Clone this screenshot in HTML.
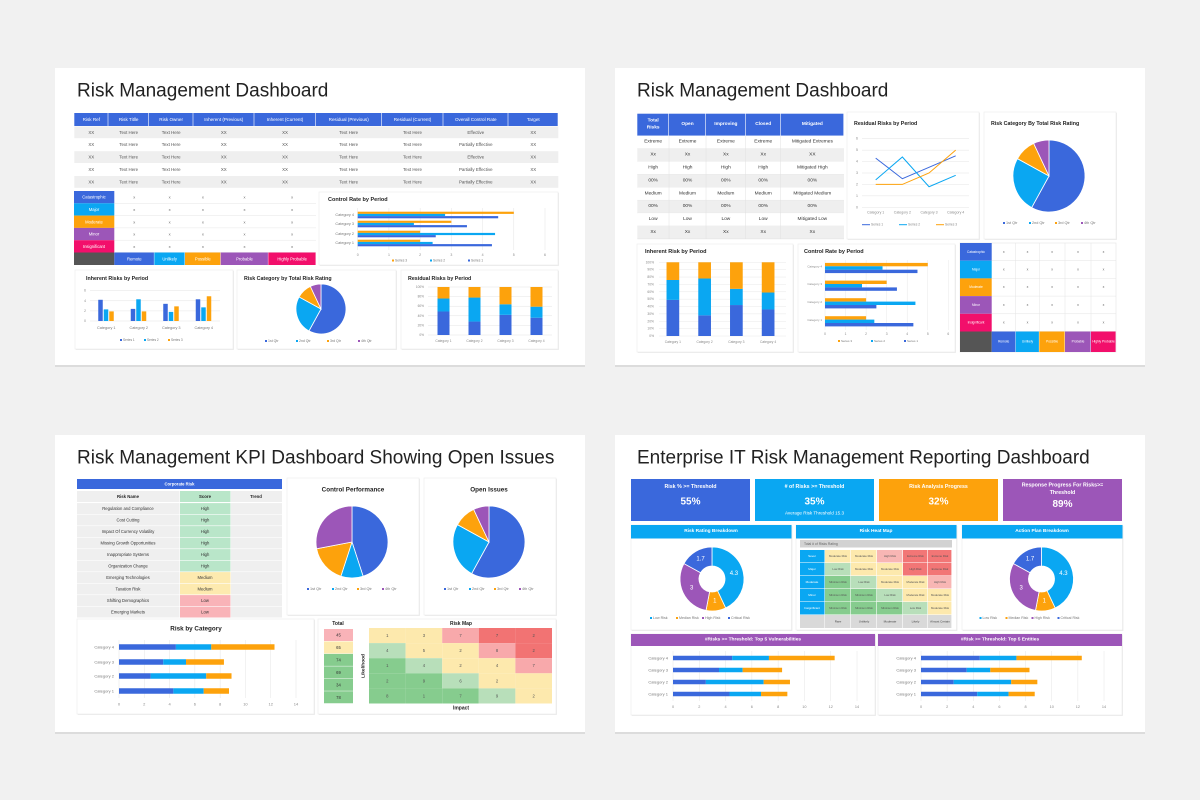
<!DOCTYPE html>
<html><head><meta charset="utf-8"><title>Risk Management Dashboards</title>
<style>html,body{margin:0;padding:0;background:#f1f1f1;}svg{display:block;font-family:"Liberation Sans",sans-serif;}</style>
</head><body>
<svg id="svg" width="1200" height="800" viewBox="0 0 1200 800" xmlns="http://www.w3.org/2000/svg"></svg>
<script>
// ---------- DATA ----------
const cats = ['Category 1','Category 2','Category 3','Category 4'];
const crS1 = [4.3,2.5,3.5,4.5];
const crS2 = [2.4,4.4,1.8,2.8];
const crS3 = [2,2,3,5];
const inhS1 = [4.2,2.4,3.4,4.3];
const inhS2 = [2.3,4.3,1.8,2.7];
const inhS3 = [1.9,1.9,2.9,4.9];
const resBlue = [49,28,42,36];
const resLight = [27,50,22,23];
const resOrange = [24,22,36,41];
const pieQtr = [58,25,10,7];
const ctrlPerf = [45,10,17,28];
const qtrLabels = ['1st Qtr','2nd Qtr','3rd Qtr','4th Qtr'];
const lineS1 = [4.3,2.5,3.5,4.5];
const lineS2 = [2.4,4.4,1.8,2.8];
const lineS3 = [2,2,3,5];
const donutVals = [4.3,1,3,1.7];
const donutLabels = ['4.3','1','3','1.7'];
const riskTotals = [45,65,74,69,34,78];
const pctTicks = ['0%','10%','20%','30%','40%','50%','60%','70%','80%','90%','100%'];

const BLUE='#3a68dc', LB='#0aa7f2', OR='#fda20c', PU='#9c56b8', PK='#f20f6b', GR='#555555';
const NS='http://www.w3.org/2000/svg';
const S=document.getElementById('svg');

function mk(tag, attrs, name){
  const el=document.createElementNS(NS,tag);
  for(const k in attrs) el.setAttribute(k,attrs[k]);
  
  
  S.appendChild(el); return el;
}
function R(x,y,w,h,fill,name,stroke){ return mk('rect',{x:x,y:y,width:Math.max(0,w),height:Math.max(0,h),fill:fill,stroke:stroke||'none','stroke-width':0.6},name); }
function T(x,y,s,size,fill,anchor,weight,name){
  const el=mk('text',{x:x,y:y,'font-size':size,fill:fill||'#333','text-anchor':anchor||'start','font-weight':weight||'normal','dominant-baseline':'central'},name||'label');
  el.textContent=s; return el;
}
function L(x1,y1,x2,y2,c,w,name){ return mk('line',{x1:x1,y1:y1,x2:x2,y2:y2,stroke:c,'stroke-width':w||0.5},name||'gridline'); }
function card(x,y,w,h,name){ R(x+0.8,y+0.8,w,h,'#e4e4e4',name+'-shadow'); return R(x,y,w,h,'#fff',name,'#ececec'); }
function slide(x,y,name){ R(x,y+1,530,298,'#dcdcdc',name+'-shadow'); R(x,y,530,297,'#fff',name); }

function pie(cx,cy,r,vals,colors,inner,name){
  const tot=vals.reduce((a,b)=>a+b,0); let a=-Math.PI/2;
  vals.forEach((v,i)=>{
    const b=a+v/tot*2*Math.PI, lg=(b-a)>Math.PI?1:0;
    const x1=cx+r*Math.cos(a),y1=cy+r*Math.sin(a),x2=cx+r*Math.cos(b),y2=cy+r*Math.sin(b);
    let d;
    if(inner){const ix1=cx+inner*Math.cos(a),iy1=cy+inner*Math.sin(a),ix2=cx+inner*Math.cos(b),iy2=cy+inner*Math.sin(b);
      d=`M${x1},${y1}A${r},${r} 0 ${lg} 1 ${x2},${y2}L${ix2},${iy2}A${inner},${inner} 0 ${lg} 0 ${ix1},${iy1}Z`;}
    else d=`M${cx},${cy}L${x1},${y1}A${r},${r} 0 ${lg} 1 ${x2},${y2}Z`;
    mk('path',{d:d,fill:colors[i],stroke:'#fff','stroke-width':0.8},name+'-slice-'+(i+1));
    a=b;
  });
}
function legend(x,y,labels,colors,gap,size,name){
  labels.forEach((l,i)=>{ R(x+i*gap,y-1,2,2,colors[i],name+'-swatch'); T(x+i*gap+3,y,l,size||3.5,'#777','start','normal',name+'-entry'); });
}
// grouped horizontal bars (control rate)
function groupedH(x0,x1,max,ys,bh,name){
  const sx=v=>x0+v/max*(x1-x0);
  cats.forEach((c,i)=>{
    R(x0,ys[i]-bh*1.5,sx(crS3[i])-x0,bh,OR,name+'-bar-s3');
    R(x0,ys[i]-bh*0.5,sx(crS2[i])-x0,bh,LB,name+'-bar-s2');
    R(x0,ys[i]+bh*0.5,sx(crS1[i])-x0,bh,BLUE,name+'-bar-s1');
  });
}
// stacked horizontal bars
function stackH(x0,x1,max,ys,bh,name){
  const sx=v=>(x1-x0)*v/max;
  cats.forEach((c,i)=>{
    let x=x0;
    [[crS1,BLUE],[crS2,LB],[crS3,OR]].forEach(([arr,col],k)=>{ const w=sx(arr[i]); R(x,ys[i]-bh/2,w,bh,col,name+'-segment'); x+=w; });
  });
}
function pctStack(x0,x1,yTop,yBot,bw,name){
  const n=cats.length, step=(x1-x0)/n;
  cats.forEach((c,i)=>{
    const cx=x0+step*(i+0.5); let y=yBot;
    [[resBlue,BLUE],[resLight,LB],[resOrange,OR]].forEach(([arr,col])=>{
      const tot=resBlue[i]+resLight[i]+resOrange[i]; const h=arr[i]/tot*(yBot-yTop);
      R(cx-bw/2,y-h,bw,h,col,name+'-segment'); y-=h;
    });
    T(cx,yBot+6,c,3.3,'#888','middle','normal',name+'-category-label');
  });
}

// ---------- SLIDE 1 ----------
slide(55,68,'slide-1');
T(77,91,'Risk Management Dashboard',19,'#222','start','normal','slide-1-title');
(function(){
  const xs=[74.3,108.3,149,193.3,254.3,315.7,381.7,443.3,508.3,558.3];
  const hdr=['Risk Ref','Risk Titlle','Risk Owner','Inherent (Previous)','Inherent (Current)','Residual (Previous)','Residual (Current)','Overall Control Rate','Target'];
  const eff=['Effective','Partially Effective','Effective','Partially Effective','Partially Effective'];
  hdr.forEach((h,i)=>{ R(xs[i],113,xs[i+1]-xs[i]-0.6,13,BLUE,'table-header-cell'); T((xs[i]+xs[i+1])/2,119.5,h,4.6,'#fff','middle','normal','table-header-text'); });
  for(let r=0;r<5;r++){
    const y=126+r*12.4;
    R(74.3,y+0.4,484,11.8,r%2==0?'#efefef':'#fff','table-row');
    const vals=['XX','Text Here','Text Here','XX','XX','Text Here','Text Here',eff[r],'XX'];
    vals.forEach((v,i)=>T((xs[i]+xs[i+1])/2,y+6.3,v,4.4,'#555','middle','normal','table-cell'));
  }
  // risk matrix
  const rl=['Catastrophic','Major','Moderate','Minor','Insignificant'], rc=[BLUE,LB,OR,PU,PK];
  const cx=[114.3,154.3,185,220.7,268.3,316];
  rl.forEach((l,i)=>{ const y=191+i*12.3;
    R(74,y,40.3,12.3,rc[i],'matrix-row-label'); T(94,y+6.2,l,4.2,'#fff','middle','normal','matrix-row-text');
    for(let c=0;c<5;c++){ T((cx[c]+cx[c+1])/2,y+6.2,'x',4,'#666','middle','normal','matrix-cell'); }
    L(114,y+12.3,316,y+12.3,'#e6e6e6',0.5);
  });
  R(74,252.5,40.3,12.5,GR,'matrix-corner');
  const cl=['Remote','Unlikely','Possible','Probable','Highly Probable'];
  cl.forEach((l,i)=>{ R(cx[i],252.5,cx[i+1]-cx[i]-0.4,12.5,rc[i==4?4:i],'matrix-col-label'); T((cx[i]+cx[i+1])/2,258.8,l,4.2,'#fff','middle','normal','matrix-col-text'); });
  // control rate
  card(319,192,239,73,'control-rate-card');
  T(328,200,'Control Rate by Period',5.5,'#222','start','bold','control-rate-title');
  const x0=357.7,x1=545; for(let t=0;t<=6;t++){ const x=x0+t/6*(x1-x0); L(x,208,x,250,'#e4e4e4'); T(x,255,String(t),3.5,'#888','middle','normal','x-tick'); }
  const ys=[243,234,224,215];
  cats.forEach((c,i)=>T(354,ys[i],c,3.8,'#777','end','normal','category-label'));
  groupedH(x0,x1,6,ys,2.2,'control-rate-1');
  legend(392,260.5,['Series 3','Series 2','Series 1'],[OR,LB,BLUE],38,3.3,'control-legend');
  // inherent
  card(75,270,158,79,'inherent-card');
  T(86,279,'Inherent Risks by Period',5.3,'#222','start','bold','inherent-title');
  const py0=321, py1=290.7; [0,2,4,6].forEach(t=>{ const y=py0-t/6*(py0-py1); L(90,y,220,y,'#e4e4e4'); T(86,y,String(t),3.3,'#888','end','normal','y-tick'); });
  const step=130/4;
  cats.forEach((c,i)=>{ const cx0=90+step*(i+0.5);
    [[inhS1,BLUE],[inhS2,LB],[inhS3,OR]].forEach(([a,col],k)=>{ const h=a[i]/6*(py0-py1); R(cx0-8+k*5.5,py0-h,4.5,h,col,'inherent-bar'); });
    T(cx0,328,c,3.8,'#777','middle','normal','category-label'); });
  legend(120,340,['Series 1','Series 2','Series 3'],[BLUE,LB,OR],24,3.2,'inherent-legend');
  // pie
  card(237,270,159,79,'risk-category-card');
  T(244,279,'Risk Category by Total Risk Rating',5.3,'#222','start','bold','risk-category-title');
  pie(321,309,25,pieQtr,[BLUE,LB,OR,PU],0,'risk-category-pie');
  legend(265,341,qtrLabels,[BLUE,LB,OR,PU],31,3.5,'pie-legend');
  // residual
  card(401,270,157,79,'residual-card');
  T(408,279,'Residual Risks by Period',5.3,'#222','start','bold','residual-title');
  ['0%','20%','40%','60%','80%','100%'].forEach((t,i)=>{ const y=335-i*9.6; L(428,y,552,y,'#e4e4e4'); T(424,y,t,3.2,'#888','end','normal','y-tick'); });
  pctStack(428,552,287,335,12,'residual-1');
})();

// ---------- SLIDE 2 ----------
slide(615,68,'slide-2');
T(637,91,'Risk Management Dashboard',19,'#222','start','normal','slide-2-title');
(function(){
  const xs=[637.3,669,706,745.7,780.7,844];
  const hdr=['Total Risks','Open','Improving','Closed','Mitigated'];
  hdr.forEach((h,i)=>{ R(xs[i],113.7,xs[i+1]-xs[i]-0.6,22,BLUE,'summary-header-cell');
    if(i==0){T((xs[0]+xs[1])/2,121,'Total',4.8,'#fff','middle','bold','summary-header-text');T((xs[0]+xs[1])/2,128,'Risks',4.8,'#fff','middle','bold','summary-header-text');}
    else T((xs[i]+xs[i+1])/2,124.7,h,4.8,'#fff','middle','bold','summary-header-text'); });
  const rows=[['Extreme','Mitigated Extremes'],['Xx','XX'],['High','Mitigated High'],['00%','00%'],['Medium','Mitigated Medium'],['00%','00%'],['Low','Mitigated Low'],['Xx','Xx']];
  rows.forEach((r,ri)=>{ const y=135.7+ri*12.9;
    R(637.3,y,206.7,12.9,ri%2?'#efefef':'#fff','summary-row');
    L(637.3,y+12.9,844,y+12.9,'#e0e0e0');
    for(let c=0;c<5;c++) T((xs[c]+xs[c+1])/2,y+6.5,c<4?r[0]:r[1],4.8,'#333','middle','normal','summary-cell'); });
  for(let c=1;c<5;c++) L(xs[c],135.7,xs[c],239,'#e0e0e0');
  // line chart
  card(847,112,132,127,'residual-line-card');
  T(854,124,'Residual Risks by Period',5.3,'#222','start','bold','residual-line-title');
  const y0=207.3,y1=138.7,xa=875.7,xb=955.7;
  for(let t=0;t<=6;t++){ const y=y0-t/6*(y0-y1); L(862,y,969,y,'#e4e4e4'); T(857,y,String(t),3.5,'#888','middle','normal','y-tick'); }
  const px=i=>xa+i*(xb-xa)/3, py=v=>y0-v/6*(y0-y1);
  [[lineS1,BLUE,'series-1-line'],[lineS2,LB,'series-2-line'],[lineS3,OR,'series-3-line']].forEach(([a,col,n])=>{
    mk('polyline',{points:a.map((v,i)=>px(i)+','+py(v)).join(' '),fill:'none',stroke:col,'stroke-width':1},n); });
  cats.forEach((c,i)=>T(px(i),212.7,c,3.5,'#888','middle','normal','category-label'));
  [['Series 1',BLUE],['Series 2',LB],['Series 3',OR]].forEach(([l,c],i)=>{ L(862+i*37,224.7,870+i*37,224.7,c,1,'legend-line'); T(871+i*37,224.7,l,3.3,'#888','start','normal','legend-entry'); });
  // pie
  card(984,112,132,127,'risk-category-card-2');
  T(991,124,'Risk Category By Total Risk Rating',5.3,'#222','start','bold','risk-category-title-2');
  pie(1049,176,36,pieQtr,[BLUE,LB,OR,PU],0,'risk-category-pie-2');
  legend(1003,223,qtrLabels,[BLUE,LB,OR,PU],26,3.8,'pie-legend-2');
  // inherent percent
  card(637,244,156,108,'inherent-risk-card');
  T(645,252,'Inherent Risk by Period',5.5,'#222','start','bold','inherent-risk-title');
  pctTicks.forEach((t,i)=>{ const y=336-i*7.37; L(659,y,786,y,'#e8e8e8'); T(654,y,t,3.3,'#888','end','normal','y-tick'); });
  pctStack(657,784,262.3,336,12.7,'inherent-risk');
  // control rate 2
  card(798,244,157,108,'control-rate-card-2');
  T(804,252,'Control Rate by Period',5.5,'#222','start','bold','control-rate-title-2');
  const x0=825,x1=948.3; for(let t=0;t<=6;t++){ const x=x0+t/6*(x1-x0); L(x,260,x,330,'#e8e8e8'); T(x,334,String(t),3.3,'#888','middle','normal','x-tick'); }
  const ys=[321.3,303.3,285.7,268];
  cats.forEach((c,i)=>T(822,ys[i]-1.5,c,3,'#888','end','normal','category-label'));
  groupedH(x0,x1,6,ys,3.4,'control-rate-2');
  legend(838,341,['Series 3','Series 2','Series 1'],[OR,LB,BLUE],33,3,'control-legend-2');
  // matrix 2
  const rl=['Catastrophic','Major','Moderate','Minor','Insignificant'], rc=[BLUE,LB,OR,PU,PK];
  const cx=[991.7,1015.7,1039.3,1065,1091,1116];
  R(960,243,156,109,'#fff','matrix-2','#e4e4e4');
  rl.forEach((l,i)=>{ const y=243+i*17.7;
    R(960,y,31.7,17.7,rc[i],'matrix-2-row-label'); T(976,y+8.8,l,3.2,'#fff','middle','normal','matrix-2-row-text');
    for(let c=0;c<5;c++) T((cx[c]+cx[c+1])/2,y+8.8,'x',3.5,'#666','middle','normal','matrix-2-cell');
    L(991.7,y+17.7,1116,y+17.7,'#e4e4e4'); });
  for(let c=1;c<5;c++) L(cx[c],243,cx[c],331.5,'#e4e4e4');
  R(960,331.5,31.7,20.5,GR,'matrix-2-corner');
  ['Remote','Unlikely','Possible','Probable','Highly Probable'].forEach((l,i)=>{ R(cx[i],331.5,cx[i+1]-cx[i]-0.4,20.5,rc[i==4?4:i],'matrix-2-col-label'); T((cx[i]+cx[i+1])/2,341.7,l,3.2,'#fff','middle','normal','matrix-2-col-text'); });
})();

// ---------- SLIDE 3 ----------
slide(55,435,'slide-3');
T(77,458,'Risk Management KPI Dashboard Showing Open Issues',19,'#222','start','normal','slide-3-title');
(function(){
  R(77,479,205,10,BLUE,'corporate-risk-header'); T(179.5,484,'Corporate Risk',4.2,'#fff','middle','bold','corporate-risk-title');
  const names=['Regulation and Compliance','Cost Cutting','Impact Of Currency Volatility','Missing Growth Opportunities','Inappropriate Systems','Organization Change','Emerging Technologies','Taxation Risk','Shifting Demographics','Emerging Markets'];
  const scores=['High','High','High','High','High','High','Medium','Medium','Low','Low'];
  const sc={High:'#b9e6c9',Medium:'#fdeaaf',Low:'#f9b3b8'};
  R(77,491,102.5,11,'#efefef','risk-name-header'); R(180,491,50.5,11,'#b9e6c9','score-header'); R(231,491,51,11,'#efefef','trend-header');
  T(128,496.5,'Risk Name',4.3,'#222','middle','bold','risk-name-header-text'); T(205,496.5,'Score',4.3,'#222','middle','bold','score-header-text'); T(256,496.5,'Trend',4.3,'#222','middle','bold','trend-header-text');
  names.forEach((n,i)=>{ const y=502.5+i*11.5;
    R(77,y+0.6,102.5,10.9,'#efefef','risk-name-cell'); R(180,y+0.6,50.5,10.9,sc[scores[i]],'score-cell'); R(231,y+0.6,51,10.9,'#efefef','trend-cell');
    T(128,y+6,n,4.2,'#333','middle','normal','risk-name-text'); T(205,y+6,scores[i],4.2,'#333','middle','normal','score-text'); });
  card(287,478,132,137,'control-performance-card');
  T(353,490,'Control Performance',6.3,'#222','middle','bold','control-performance-title');
  pie(352,542,36,ctrlPerf,[BLUE,LB,OR,PU],0,'control-performance-pie');
  legend(307,589,qtrLabels,[BLUE,LB,OR,PU],25,3.8,'control-performance-legend');
  card(424,478,132,137,'open-issues-card');
  T(489,490,'Open Issues',6.3,'#222','middle','bold','open-issues-title');
  pie(489,542,36,pieQtr,[BLUE,LB,OR,PU],0,'open-issues-pie');
  legend(444,589,qtrLabels,[BLUE,LB,OR,PU],25,3.8,'open-issues-legend');
  // risk by category
  card(77,619,237,95,'risk-by-category-card');
  T(196,629,'Risk by Category',6.3,'#222','middle','bold','risk-by-category-title');
  const x0=119,x1=296; for(let t=0;t<=14;t+=2){ const x=x0+t/14*(x1-x0); L(x,640,x,698,'#e4e4e4'); T(x,704,String(t),4,'#888','middle','normal','x-tick'); }
  const ys=[691,676,662,647]; cats.forEach((c,i)=>T(114,ys[i],c,4,'#777','end','normal','category-label'));
  stackH(x0,x1,14,ys,5.5,'risk-by-category');
  // risk map
  card(318,619,238,95,'risk-map-card');
  T(338,624,'Total',5,'#222','middle','bold','total-title');
  const tc=['#f9b3b8','#fdeaaf','#86cc8e','#86cc8e','#86cc8e','#86cc8e'];
  riskTotals.forEach((v,i)=>{ R(324,629+i*12.45,29,12,tc[i],'total-cell'); T(338.5,635+i*12.45,String(v),4.2,'#333','middle','normal','total-value'); });
  T(461,624,'Risk Map',5,'#222','middle','bold','risk-map-title');
  const Y='#fde9ad',P='#f8a9ab',Rd='#f27373',LG='#b8dfba',G='#86cc8e';
  const grid=[[['1',Y],['3',Y],['7',P],['7',Rd],['2',Rd]],[['4',LG],['5',Y],['2',Y],['8',P],['2',Rd]],[['1',G],['4',LG],['2',Y],['4',Y],['7',P]],[['2',G],['9',G],['6',LG],['2',Y],['',Y]],[['8',G],['1',G],['7',G],['9',LG],['2',Y]]];
  grid.forEach((row,r)=>row.forEach(([v,c],k)=>{ R(369+k*36.6,628+r*15.1,36.6,15.1,c,'risk-map-cell'); T(369+k*36.6+18.3,628+r*15.1+7.5,v,4.2,'#555','middle','normal','risk-map-value'); }));
  const lk=T(364,666,'Likelihood',4.8,'#222','middle','bold','likelihood-label'); lk.setAttribute('transform','rotate(-90 364 666)');
  T(461,708.5,'Impact',5,'#222','middle','bold','impact-label');
})();

// ---------- SLIDE 4 ----------
slide(615,435,'slide-4');
T(637,458,'Enterprise IT Risk Management Reporting Dashboard',19,'#222','start','normal','slide-4-title');
(function(){
  const kx=[631,755,879,1003], kc=[BLUE,LB,OR,PU];
  const kt=['Risk % >= Threshold','# of Risks >= Threshold','Risk Analysis Progress','Response Progress For Risks>='], kv=['55%','35%','32%','89%'];
  kx.forEach((x,i)=>{ R(x,479,119,42,kc[i],'kpi-card'); T(x+59.5,i==3?485.5:487,kt[i],5.3,'#fff','middle','bold','kpi-title'); T(x+59.5,i==3?504.5:502,kv[i],10,'#fff','middle','bold','kpi-value'); });
  T(1062.5,493,'Threshold',5.3,'#fff','middle','bold','kpi-title');
  T(814.5,513,'Average Risk Threshold 15.3',4.6,'#fff','middle','normal','kpi-subtitle');
  const cardsX=[631,796,962], ct=['Risk Rating Breakdown','Risk Heat Map','Action Plan Breakdown'];
  cardsX.forEach((x,i)=>{ card(x,525,160.5,105,'breakdown-card'); R(x,525,160.5,13.5,LB,'breakdown-header'); T(x+80,531.7,ct[i],4.8,'#fff','middle','bold','breakdown-title'); });
  [[712,579],[1041.5,579]].forEach(([cx,cy],k)=>{
    pie(cx,cy,32,donutVals,[LB,OR,PU,BLUE],13,'donut-'+(k+1));
    const tot=donutVals.reduce((a,b)=>a+b,0); let a=-Math.PI/2;
    donutVals.forEach((v,i)=>{ const m=a+v/tot*Math.PI; T(cx+22.5*Math.cos(m),cy+22.5*Math.sin(m),donutLabels[i],6,'#fff','middle','normal','donut-value'); a+=v/tot*2*Math.PI; });
    legend(cx-70+8,618,['Low Risk','Median Risk','High Risk','Critical Risk'],[LB,OR,PU,BLUE],26,3.6,'donut-legend');
  });
  // heat map
  R(800,540,152,7.5,'#d2d2d2','heatmap-caption'); T(804,543.8,'Total # of Risks Rating',3.4,'#666','start','normal','heatmap-caption-text');
  const Y='#fde9ad',P='#f8b6b4',Rd='#f27676',LG='#b8dfba',G='#86cc8e';
  const rows=['Sever','Major','Moderate','Minor','Insignificant'];
  const H=[[['Moderate Risk',Y],['Moderate Risk',Y],['High Risk',P],['Extreme Risk',Rd],['Extreme Risk',Rd]],
           [['Low Risk',LG],['Moderate Risk',Y],['Moderate Risk',Y],['High Risk',Rd],['Extreme Risk',Rd]],
           [['Minimum Risk',G],['Low Risk',LG],['Moderate Risk',Y],['Moderate Risk',Y],['High Risk',P]],
           [['Minimum Risk',G],['Minimum Risk',G],['Low Risk',LG],['Moderate Risk',Y],['Moderate Risk',Y]],
           [['Minimum Risk',G],['Minimum Risk',G],['Minimum Risk',G],['Low Risk',LG],['Moderate Risk',Y]]];
  const hx=[825,851,877,903,928,952];
  rows.forEach((r,ri)=>{ const y=550+ri*13;
    R(800,y,24.5,12.5,LB,'heatmap-row-label'); T(812,y+6.2,r,3,'#fff','middle','normal','heatmap-row-text');
    H[ri].forEach(([t,c],k)=>{ R(hx[k],y,hx[k+1]-hx[k]-0.6,12.5,c,'heatmap-cell'); T((hx[k]+hx[k+1])/2,y+6.2,t,2.8,'#555','middle','normal','heatmap-cell-text'); }); });
  R(800,615,24.5,13,'#d9d9d9','heatmap-corner');
  ['Rare','Unlikely','Moderate','Likely','Almost Certain'].forEach((t,k)=>{ R(hx[k],615,hx[k+1]-hx[k]-0.6,13,'#d9d9d9','heatmap-col-label'); T((hx[k]+hx[k+1])/2,621.5,t,3,'#444','middle','normal','heatmap-col-text'); });
  // bottom bar charts
  [[631,673,857,'#Risks >= Threshold: Top 5 Vulnerabilities','vulnerabilities'],[878,921,1104,'#Risk >= Threshold: Top 5 Entities','entities']].forEach(([cx,x0,x1,title,n])=>{
    card(cx,634,244,81,n+'-card'); R(cx,634,244,12,PU,n+'-header'); T(cx+122,640,title,4.8,'#fff','middle','bold',n+'-title');
    for(let t=0;t<=14;t+=2){ const x=x0+t/14*(x1-x0); L(x,651,x,701,'#e6e6e6'); T(x,707,String(t),3.8,'#888','middle','normal','x-tick'); }
    const ys=[694,682,670,658]; cats.forEach((c,i)=>T(x0-5,ys[i],c,4,'#777','end','normal','category-label'));
    stackH(x0,x1,14,ys,4.5,n);
  });
})();
</script>
</body></html>
